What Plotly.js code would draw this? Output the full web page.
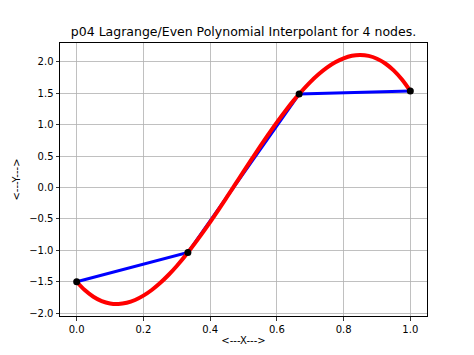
<!DOCTYPE html>
<html>
<head>
<meta charset="utf-8">
<script src="https://cdn.plot.ly/plotly-3.0.1.min.js"></script>
<style>html,body{margin:0;padding:0;background:#fff;}</style>
</head>
<body>
<div id="chart" style="width:474px;height:355px;"></div>
<script>
// Interpolation nodes
const nodeX = [0.0, 0.3333, 0.6667, 1.0];
const nodeY = [-1.5, -1.035, 1.486, 1.533];

// Red interpolant curve
const curveX = [0.0, 0.025, 0.05, 0.075, 0.1, 0.125, 0.15, 0.175, 0.2, 0.225, 0.25, 0.275, 0.3, 0.3333,
                0.375, 0.4, 0.425, 0.45, 0.475, 0.5, 0.525, 0.55, 0.575, 0.6, 0.625, 0.65, 0.6667,
                0.7, 0.725, 0.75, 0.775, 0.8, 0.825, 0.85, 0.875, 0.9, 0.925, 0.95, 0.975, 1.0];
const curveY = [-1.5, -1.637, -1.739, -1.808, -1.846, -1.854, -1.835, -1.790, -1.721, -1.631, -1.521, -1.393, -1.249, -1.035,
                -0.739, -0.550, -0.355, -0.155, 0.048, 0.252, 0.454, 0.653, 0.847, 1.035, 1.213, 1.381, 1.486,
                1.677, 1.801, 1.907, 1.992, 2.055, 2.095, 2.107, 2.093, 2.048, 1.972, 1.862, 1.716, 1.533];

const titleText = 'p04 Lagrange/Even Polynomial Interpolant for 4 nodes.';
const xLabel = '&lt;---X---&gt;';
const yLabel = '&lt;---Y---&gt;';
const xTicks = [0.0, 0.2, 0.4, 0.6, 0.8, 1.0];
const xTickText = ['0.0', '0.2', '0.4', '0.6', '0.8', '1.0'];
const yTicks = [-2.0, -1.5, -1.0, -0.5, 0.0, 0.5, 1.0, 1.5, 2.0];
const yTickText = ['\u22122.0', '\u22121.5', '\u22121.0', '\u22120.5', '0.0', '0.5', '1.0', '1.5', '2.0'];

const font = 'DejaVu Sans, sans-serif';

const traces = [
  {x: nodeX, y: nodeY, mode: 'lines', line: {color: '#0000ff', width: 3}, hoverinfo: 'skip'},
  {x: curveX, y: curveY, mode: 'lines', line: {color: '#ff0000', width: 4, shape: 'spline', smoothing: 1}, hoverinfo: 'skip'},
  {x: nodeX, y: nodeY, mode: 'markers', marker: {color: '#000000', size: 7}, hoverinfo: 'skip'}
];

const axisCommon = {
  showline: true, linecolor: '#000', linewidth: 1, mirror: true,
  showgrid: true, gridcolor: '#b0b0b0', gridwidth: 0.8,
  zeroline: false,
  ticks: 'outside', ticklen: 3.5, tickwidth: 0.8, tickcolor: '#000',
  tickfont: {family: font, size: 10, color: '#000'}
};

const layout = {
  width: 474, height: 355,
  margin: {l: 60, r: 47.3, t: 43, b: 39.3},
  paper_bgcolor: '#fff', plot_bgcolor: '#fff',
  showlegend: false,
  font: {family: font, color: '#000'},
  title: {text: titleText, font: {family: font, size: 12.5, color: '#000'},
          x: 0.5, xref: 'paper', xanchor: 'center', y: 1 - 32/355, yref: 'container', yanchor: 'middle'},
  xaxis: Object.assign({}, axisCommon, {
    range: [-0.05, 1.05], tickvals: xTicks, ticktext: xTickText,
    title: {text: xLabel, font: {family: font, size: 10, color: '#000'}, standoff: 3}
  }),
  yaxis: Object.assign({}, axisCommon, {
    range: [-2.045, 2.298], tickvals: yTicks, ticktext: yTickText,
    title: {text: yLabel, font: {family: font, size: 10, color: '#000'}, standoff: 6}
  })
};

Plotly.newPlot('chart', traces, layout, {displayModeBar: false, staticPlot: true});
</script>
</body>
</html>
